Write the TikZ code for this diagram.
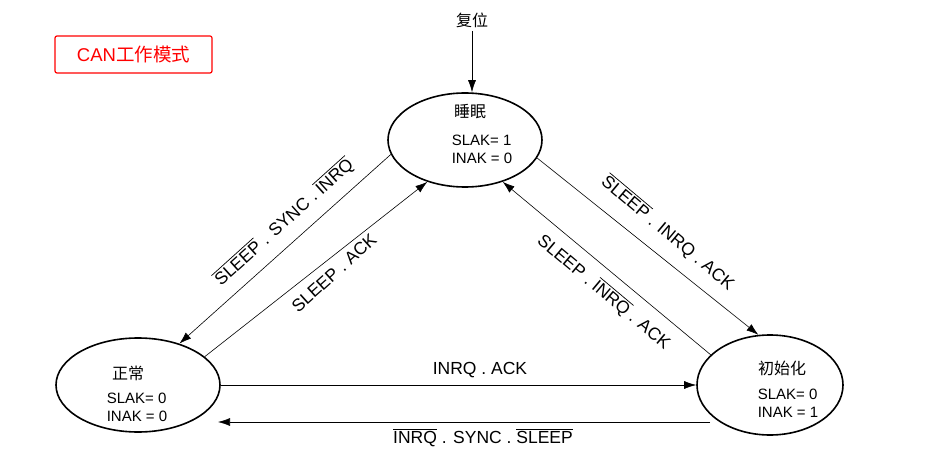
\documentclass[tikz,border=0pt]{standalone}
\usepackage{fontspec}
\setmainfont{Liberation Sans}
\newfontfamily\cjk{Noto Sans CJK SC}
\usetikzlibrary{arrows.meta,shapes.geometric}
\newcommand{\ov}[1]{\setbox0\hbox{#1}\rlap{\rule[\dimexpr\ht0+1.8pt\relax]{\wd0}{0.7pt}}\box0\relax}
\begin{document}
\begin{tikzpicture}[x=1pt,y=-1pt,
 st/.style={ellipse,draw,line width=1.6pt,inner sep=0pt},
 ar/.style={-{Latex[length=12pt,width=8pt]},line width=0.6pt},
 lb/.style={font=\fontsize{17.5}{20}\selectfont,inner sep=1pt},
 ct/.style={font=\cjk\fontsize{16}{18}\selectfont},
 vt/.style={font=\fontsize{15}{18}\selectfont,align=left}]
\useasboundingbox (0,0) rectangle (947,449);
\node[draw=red,line width=1.2pt,rounded corners=2pt,minimum width=157pt,minimum height=37pt,text=red,font=\fontsize{18.5}{20}\selectfont] (title) at (133.5,54.5) {CAN{\cjk 工作模式}};
\node[ct] (reset) at (472,20) {复位};
\node[st,minimum width=154pt,minimum height=94pt] (sleep) at (465,140) {};
\node[st,minimum width=164pt,minimum height=94pt] (normal) at (138,385) {};
\node[st,minimum width=146pt,minimum height=100pt] (init) at (770,385) {};
\node[ct] (t1) at (470,112) {睡眠};
\node[vt] (s1) at (482,149) {SLAK= 1\\INAK = 0};
\node[ct] (t2) at (128,373) {正常};
\node[vt] (s2) at (137,407) {SLAK= 0\\INAK = 0};
\node[ct] (t3) at (782,368) {初始化};
\node[vt] (s3) at (788,403) {SLAK= 0\\INAK = 1};
\draw[ar] (reset) -- (reset |- sleep.north);
\coordinate (b1) at (710,422);
\coordinate (b2) at (218,422);
\draw[ar] (sleep.191) -- (normal.45);
\draw[ar] (normal.23) -- (sleep.228);
\draw[ar] (sleep.346) -- (init.103);
\draw[ar] (init.153) -- (sleep.312);
\draw[ar] (normal.0) -- (init.180);
\draw[ar] (b1) -- (b2);
\node[lb,rotate=42] (l1) at (284,222) {\ov{SLEEP} . SYNC . \ov{INRQ}};
\node[lb,rotate=42] (l2) at (334,273) {SLEEP . ACK};
\node[lb,rotate=-40] (l3) at (668,233) {\ov{SLEEP} . INRQ . ACK};
\node[lb,rotate=-40] (l4) at (604,292) {SLEEP . \ov{INRQ} . ACK};
\node[lb] (l5) at (480,370) {INRQ . ACK};
\node[lb] (l6) at (483,438) {\ov{INRQ} . SYNC . \ov{SLEEP}};
\end{tikzpicture}
\end{document}
